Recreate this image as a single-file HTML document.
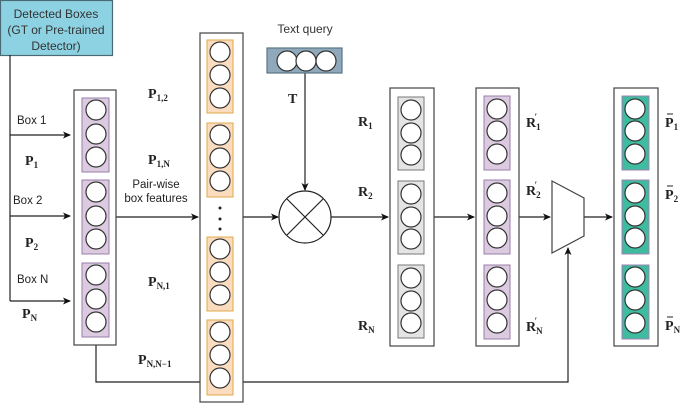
<!DOCTYPE html>
<html><head><style>body{margin:0;background:#fff}svg{display:block}</style></head><body>
<svg width="685" height="412" viewBox="0 0 685 412" xmlns="http://www.w3.org/2000/svg" font-family="Liberation Sans, sans-serif">
<defs><marker id="a" markerWidth="8" markerHeight="8" refX="7" refY="4" orient="auto" markerUnits="userSpaceOnUse"><path d="M0,0.5 L8,4 L0,7.5 L2,4z" fill="#111"/></marker></defs>
<g stroke="#222" stroke-width="1.2" fill="none">
<rect x="0.5" y="0.5" width="112" height="55" fill="#8dd2e2" stroke="#4a6a75"/>
<path d="M10 55 V301"/>
<path d="M10 135 H70" marker-end="url(#a)"/><path d="M10 216 H70" marker-end="url(#a)"/><path d="M10 301 H70" marker-end="url(#a)"/>
<path d="M116 217 H198" marker-end="url(#a)"/>
<path d="M243 217 H278" marker-end="url(#a)"/>
<path d="M305 73 V190" marker-end="url(#a)"/>
<path d="M331 217 H388" marker-end="url(#a)"/>
<path d="M434 217 H474" marker-end="url(#a)"/>
<path d="M519 217 H550" marker-end="url(#a)"/>
<path d="M584 217 H612" marker-end="url(#a)"/>
<path d="M96 345 V382 H568 V248" marker-end="url(#a)"/>
<circle cx="305" cy="217" r="26" fill="#fff"/>
<path d="M287 199 L323 235 M323 199 L287 235"/>
<path d="M552 181 L584 198 L584 236 L552 253 Z" fill="#fff" stroke="#444"/>
<rect x="267" y="48" width="75" height="25" fill="#8fa9ba" stroke="#5a7585"/>
</g>
<g stroke="#444" stroke-width="1.2">
<rect x="74" y="90" width="42" height="255" fill="#fff"/>
<rect x="200" y="33" width="43" height="369" fill="#fff"/>
<rect x="390" y="88" width="44" height="258" fill="#fff"/>
<rect x="476" y="88" width="43" height="258" fill="#fff"/>
<rect x="614" y="88" width="44" height="258" fill="#fff"/>
</g>
<g stroke-width="1">
<g fill="#dccbe0" stroke="#9a7fa8"><rect x="82" y="98" width="27" height="74"/><rect x="82" y="180" width="27" height="74"/><rect x="82" y="263" width="27" height="74"/>
<rect x="484" y="96" width="26" height="74"/><rect x="484" y="180" width="26" height="74"/><rect x="484" y="265" width="26" height="74"/></g>
<g fill="#fbdcbf" stroke="#e0a84a"><rect x="207" y="40" width="26" height="73"/><rect x="207" y="123" width="26" height="74"/><rect x="207" y="237" width="26" height="74"/><rect x="207" y="320" width="26" height="75"/></g>
<g fill="#e4e4e4" stroke="#777"><rect x="398" y="97" width="26" height="73"/><rect x="398" y="181" width="26" height="73"/><rect x="398" y="265" width="26" height="73"/></g>
<g fill="#3fbb9f" stroke="#a080b0"><rect x="622" y="96" width="27" height="74"/><rect x="622" y="180" width="27" height="74"/><rect x="622" y="265" width="27" height="74"/></g>
</g>
<g fill="#fff" stroke="#333" stroke-width="1.2">
<circle cx="96" cy="110" r="10"/><circle cx="96" cy="134" r="10"/><circle cx="96" cy="157" r="10"/>
<circle cx="96" cy="192" r="10"/><circle cx="96" cy="216" r="10"/><circle cx="96" cy="239" r="10"/>
<circle cx="96" cy="275" r="10"/><circle cx="96" cy="299" r="10"/><circle cx="96" cy="322" r="10"/>
<circle cx="220" cy="52" r="10"/><circle cx="220" cy="75" r="10"/><circle cx="220" cy="98" r="10"/>
<circle cx="220" cy="135" r="10"/><circle cx="220" cy="158" r="10"/><circle cx="220" cy="181" r="10"/>
<circle cx="220" cy="249" r="10"/><circle cx="220" cy="272" r="10"/><circle cx="220" cy="295" r="10"/>
<circle cx="220" cy="332" r="10"/><circle cx="220" cy="355" r="10"/><circle cx="220" cy="378" r="10"/>
<circle cx="287" cy="61" r="10"/><circle cx="306" cy="61" r="10"/><circle cx="326" cy="61" r="10"/>
<circle cx="411" cy="110" r="10"/><circle cx="411" cy="133" r="10"/><circle cx="411" cy="155" r="10"/>
<circle cx="411" cy="194" r="10"/><circle cx="411" cy="217" r="10"/><circle cx="411" cy="239" r="10"/>
<circle cx="411" cy="278" r="10"/><circle cx="411" cy="301" r="10"/><circle cx="411" cy="323" r="10"/>
<circle cx="497" cy="109" r="10"/><circle cx="497" cy="131" r="10"/><circle cx="497" cy="154" r="10"/>
<circle cx="497" cy="193" r="10"/><circle cx="497" cy="216" r="10"/><circle cx="497" cy="238" r="10"/>
<circle cx="497" cy="277" r="10"/><circle cx="497" cy="300" r="10"/><circle cx="497" cy="323" r="10"/>
<circle cx="635" cy="109" r="10"/><circle cx="635" cy="131" r="10"/><circle cx="635" cy="154" r="10"/>
<circle cx="635" cy="193" r="10"/><circle cx="635" cy="216" r="10"/><circle cx="635" cy="238" r="10"/>
<circle cx="635" cy="277" r="10"/><circle cx="635" cy="300" r="10"/><circle cx="635" cy="323" r="10"/>
</g>
<g fill="#222"><circle cx="220" cy="208" r="1.5"/><circle cx="220" cy="219" r="1.5"/><circle cx="220" cy="229" r="1.5"/></g>
<g font-size="12" fill="#333" text-anchor="middle">
<text x="56" y="18">Detected Boxes</text><text x="56" y="34">(GT or Pre-trained</text><text x="56" y="50">Detector)</text>
<text x="305" y="33">Text query</text>
</g>
<g font-size="11.5" fill="#222">
<text x="17" y="124">Box 1</text><text x="13" y="204">Box 2</text><text x="17" y="283">Box N</text>
<text x="156" y="188" text-anchor="middle">Pair-wise</text><text x="156" y="202" text-anchor="middle">box features</text>
</g>
<g font-family="Liberation Serif, serif" font-weight="bold" font-size="14" fill="#222">
<text x="25" y="165">P<tspan font-size="9" dy="3">1</tspan></text>
<text x="25" y="247">P<tspan font-size="9" dy="3">2</tspan></text>
<text x="22" y="318">P<tspan font-size="9" dy="3">N</tspan></text>
<text x="148" y="98">P<tspan font-size="9" dy="3">1,2</tspan></text>
<text x="148" y="164">P<tspan font-size="9" dy="3">1,N</tspan></text>
<text x="148" y="286">P<tspan font-size="9" dy="3">N,1</tspan></text>
<text x="138" y="364">P<tspan font-size="9" dy="3">N,N−1</tspan></text>
<text x="288" y="103">T</text>
<text x="358" y="126">R<tspan font-size="9" dy="3">1</tspan></text>
<text x="358" y="196">R<tspan font-size="9" dy="3">2</tspan></text>
<text x="358" y="330">R<tspan font-size="9" dy="3">N</tspan></text>
<text x="526" y="127">R<tspan font-size="9" dy="3">1</tspan><tspan font-size="9" dx="-6" dy="-10">′</tspan></text>
<text x="526" y="195">R<tspan font-size="9" dy="3">2</tspan><tspan font-size="9" dx="-6" dy="-10">′</tspan></text>
<text x="526" y="331">R<tspan font-size="9" dy="3">N</tspan><tspan font-size="9" dx="-8" dy="-10">′</tspan></text>
<text x="665" y="127">P<tspan font-size="9" dy="3">1</tspan></text>
<text x="665" y="199">P<tspan font-size="9" dy="3">2</tspan></text>
<text x="665" y="330">P<tspan font-size="9" dy="3">N</tspan></text>
</g>
<g stroke="#222" stroke-width="1"><path d="M667 114 H673 M667 186 H673 M667 317 H673"/></g>
</svg>
</body></html>
